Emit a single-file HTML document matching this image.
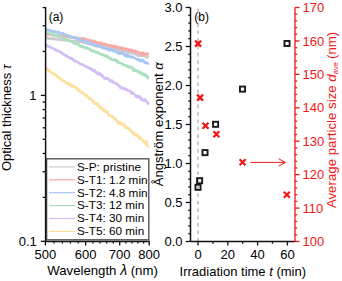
<!DOCTYPE html>
<html><head><meta charset="utf-8"><style>
html,body{margin:0;padding:0;background:#fff;width:342px;height:281px;overflow:hidden}
svg{display:block;font-family:"Liberation Sans",sans-serif}
</style></head><body>
<svg width="342" height="281" viewBox="0 0 342 281"><polyline points="45.60,38.22 46.10,37.72 46.60,38.27 47.10,38.20 47.60,38.04 48.10,37.73 48.60,38.62 49.10,38.41 49.60,38.38 50.10,38.62 50.60,38.56 51.10,38.86 51.60,38.35 52.10,38.92 52.60,38.95 53.10,38.99 53.60,38.56 54.10,38.42 54.60,38.89 55.10,38.83 55.60,39.03 56.10,39.42 56.60,39.11 57.10,38.67 57.60,39.16 58.10,38.92 58.60,39.73 59.10,39.72 59.60,39.48 60.10,39.68 60.60,39.83 61.10,39.65 61.60,39.99 62.10,39.74 62.60,40.11 63.10,40.25 63.60,40.32 64.10,39.80 64.60,40.21 65.10,39.58 65.60,39.95 66.10,39.71 66.60,40.52 67.10,40.10 67.60,40.34 68.10,40.31 68.60,40.51 69.10,40.36 69.60,40.60 70.10,41.25 70.60,40.73 71.10,41.00 71.60,41.31 72.10,41.06 72.60,40.93 73.10,41.33 73.60,41.83 74.10,40.94 74.60,41.29 75.10,41.68 75.60,41.62 76.10,41.35 76.60,41.68 77.10,41.46 77.60,41.26 78.10,41.08 78.60,41.41 79.10,42.06 79.60,41.81 80.10,41.71 80.60,41.83 81.10,41.56 81.60,42.09 82.10,41.64 82.60,42.06 83.10,41.47 83.60,42.70 84.10,42.44 84.60,42.20 85.10,43.31 85.60,43.14 86.10,42.56 86.60,43.15 87.10,43.67 87.60,43.35 88.10,43.85 88.60,43.98 89.10,44.06 89.60,43.84 90.10,44.37 90.60,44.21 91.10,44.00 91.60,43.16 92.10,44.57 92.60,44.76 93.10,44.37 93.60,44.62 94.10,45.59 94.60,44.32 95.10,45.39 95.60,46.07 96.10,45.02 96.60,45.67 97.10,46.15 97.60,45.56 98.10,45.91 98.60,45.95 99.10,45.54 99.60,46.12 100.10,46.23 100.60,46.41 101.10,46.27 101.60,46.21 102.10,45.84 102.60,46.37 103.10,46.99 103.60,46.93 104.10,46.57 104.60,46.63 105.10,48.02 105.60,47.75 106.10,47.63 106.60,46.63 107.10,48.09 107.60,48.10 108.10,48.63 108.60,48.14 109.10,48.04 109.60,48.43 110.10,47.53 110.60,48.86 111.10,48.76 111.60,48.63 112.10,49.54 112.60,49.80 113.10,48.48 113.60,48.83 114.10,49.22 114.60,49.22 115.10,49.17 115.60,49.27 116.10,50.40 116.60,49.84 117.10,49.07 117.60,49.12 118.10,50.35 118.60,50.38 119.10,51.04 119.60,50.72 120.10,50.00 120.60,50.84 121.10,49.98 121.60,50.57 122.10,50.94 122.60,51.33 123.10,50.62 123.60,50.65 124.10,51.03 124.60,51.23 125.10,51.37 125.60,51.29 126.10,51.59 126.60,52.36 127.10,52.20 127.60,51.86 128.10,52.04 128.60,52.30 129.10,52.34 129.60,52.54 130.10,52.47 130.60,52.84 131.10,52.69 131.60,52.29 132.10,52.89 132.60,53.64 133.10,53.48 133.60,53.46 134.10,53.82 134.60,53.55 135.10,53.22 135.60,54.12 136.10,53.97 136.60,54.99 137.10,54.10 137.60,53.79 138.10,54.55 138.60,55.86 139.10,54.88 139.60,54.57 140.10,54.73 140.60,55.65 141.10,55.72 141.60,55.53 142.10,56.10 142.60,55.82 143.10,55.43 143.60,55.65 144.10,56.31 144.60,56.43 145.10,56.60 145.60,55.96 146.10,56.57 146.60,57.32 147.10,56.61 147.60,57.43 148.10,57.08 148.60,57.49" fill="none" stroke="#cacaca" stroke-width="2.5" stroke-linejoin="round"/>
<polyline points="45.60,34.23 46.10,33.93 46.60,34.24 47.10,34.49 47.60,34.30 48.10,34.40 48.60,34.40 49.10,34.17 49.60,34.34 50.10,34.55 50.60,34.36 51.10,34.53 51.60,34.85 52.10,34.61 52.60,35.07 53.10,35.44 53.60,34.88 54.10,35.08 54.60,35.06 55.10,35.53 55.60,35.20 56.10,35.36 56.60,35.04 57.10,35.20 57.60,35.19 58.10,34.76 58.60,35.63 59.10,35.60 59.60,35.12 60.10,35.85 60.60,35.81 61.10,35.98 61.60,36.11 62.10,35.69 62.60,36.17 63.10,36.65 63.60,36.25 64.10,35.95 64.60,35.95 65.10,36.05 65.60,36.48 66.10,36.94 66.60,36.84 67.10,36.68 67.60,37.12 68.10,36.48 68.60,36.47 69.10,36.74 69.60,36.95 70.10,36.72 70.60,36.87 71.10,37.46 71.60,37.74 72.10,37.44 72.60,37.73 73.10,37.62 73.60,37.86 74.10,37.57 74.60,37.56 75.10,37.65 75.60,38.23 76.10,38.37 76.60,37.89 77.10,38.34 77.60,37.91 78.10,38.18 78.60,38.58 79.10,38.93 79.60,38.47 80.10,38.69 80.60,38.86 81.10,38.35 81.60,38.95 82.10,38.53 82.60,38.84 83.10,38.43 83.60,38.16 84.10,38.93 84.60,39.35 85.10,39.17 85.60,39.73 86.10,39.56 86.60,39.59 87.10,40.10 87.60,39.64 88.10,40.01 88.60,40.36 89.10,40.73 89.60,40.51 90.10,40.81 90.60,40.61 91.10,40.95 91.60,41.51 92.10,40.68 92.60,41.74 93.10,40.85 93.60,41.28 94.10,41.49 94.60,42.02 95.10,41.39 95.60,41.41 96.10,42.52 96.60,42.79 97.10,42.81 97.60,43.80 98.10,42.60 98.60,42.70 99.10,42.98 99.60,42.94 100.10,43.65 100.60,42.93 101.10,43.57 101.60,42.57 102.10,44.33 102.60,43.83 103.10,44.40 103.60,44.91 104.10,44.02 104.60,44.07 105.10,43.94 105.60,43.97 106.10,44.32 106.60,45.02 107.10,44.78 107.60,45.13 108.10,45.13 108.60,45.39 109.10,45.39 109.60,45.31 110.10,45.70 110.60,45.41 111.10,45.38 111.60,46.70 112.10,46.36 112.60,45.85 113.10,46.84 113.60,46.62 114.10,45.70 114.60,47.20 115.10,46.71 115.60,47.03 116.10,46.79 116.60,46.97 117.10,46.43 117.60,47.59 118.10,47.47 118.60,47.37 119.10,47.65 119.60,47.81 120.10,48.38 120.60,47.91 121.10,48.42 121.60,47.59 122.10,48.37 122.60,48.78 123.10,49.24 123.60,48.16 124.10,48.59 124.60,49.53 125.10,48.75 125.60,49.19 126.10,49.76 126.60,49.08 127.10,49.54 127.60,48.92 128.10,49.60 128.60,49.77 129.10,49.73 129.60,50.37 130.10,50.92 130.60,49.67 131.10,49.89 131.60,50.69 132.10,50.07 132.60,50.98 133.10,51.17 133.60,50.81 134.10,51.45 134.60,50.71 135.10,52.03 135.60,50.99 136.10,51.49 136.60,51.39 137.10,51.45 137.60,52.23 138.10,52.11 138.60,52.16 139.10,53.11 139.60,53.70 140.10,53.03 140.60,53.61 141.10,53.87 141.60,53.20 142.10,52.67 142.60,54.69 143.10,54.38 143.60,52.63 144.10,53.83 144.60,54.18 145.10,54.66 145.60,54.35 146.10,53.92 146.60,53.60 147.10,54.18 147.60,54.55 148.10,53.74 148.60,53.93" fill="none" stroke="#f7a8a8" stroke-width="2.5" stroke-linejoin="round"/>
<polyline points="45.60,29.70 46.10,29.69 46.60,29.86 47.10,29.59 47.60,29.75 48.10,30.25 48.60,29.95 49.10,29.77 49.60,30.14 50.10,31.25 50.60,31.33 51.10,30.90 51.60,31.00 52.10,31.34 52.60,31.00 53.10,31.71 53.60,31.30 54.10,31.20 54.60,32.02 55.10,31.71 55.60,31.95 56.10,32.06 56.60,31.97 57.10,32.25 57.60,32.27 58.10,31.90 58.60,31.97 59.10,32.50 59.60,32.78 60.10,33.06 60.60,33.43 61.10,33.62 61.60,33.66 62.10,33.45 62.60,33.62 63.10,33.17 63.60,33.87 64.10,34.26 64.60,34.51 65.10,34.42 65.60,34.55 66.10,35.01 66.60,34.78 67.10,35.21 67.60,35.38 68.10,35.56 68.60,36.13 69.10,35.81 69.60,35.94 70.10,35.89 70.60,36.09 71.10,37.02 71.60,37.13 72.10,36.72 72.60,37.10 73.10,37.44 73.60,37.52 74.10,37.75 74.60,37.18 75.10,37.59 75.60,37.99 76.10,38.53 76.60,38.33 77.10,38.10 77.60,38.50 78.10,38.76 78.60,38.74 79.10,39.79 79.60,39.17 80.10,39.70 80.60,40.47 81.10,40.46 81.60,40.24 82.10,40.22 82.60,40.75 83.10,41.17 83.60,40.84 84.10,41.35 84.60,41.03 85.10,41.11 85.60,41.46 86.10,41.93 86.60,42.24 87.10,41.50 87.60,42.10 88.10,42.31 88.60,42.13 89.10,42.58 89.60,43.22 90.10,44.05 90.60,43.47 91.10,43.44 91.60,43.00 92.10,44.49 92.60,43.86 93.10,44.23 93.60,44.20 94.10,44.76 94.60,44.23 95.10,44.94 95.60,45.28 96.10,45.32 96.60,45.63 97.10,45.34 97.60,46.50 98.10,45.80 98.60,45.70 99.10,46.37 99.60,46.53 100.10,46.60 100.60,47.07 101.10,47.19 101.60,46.95 102.10,47.50 102.60,48.34 103.10,48.03 103.60,47.90 104.10,47.98 104.60,47.95 105.10,48.23 105.60,48.81 106.10,48.53 106.60,47.78 107.10,49.26 107.60,48.81 108.10,49.60 108.60,49.32 109.10,49.85 109.60,50.77 110.10,49.37 110.60,49.64 111.10,49.64 111.60,49.30 112.10,49.69 112.60,51.13 113.10,50.65 113.60,50.09 114.10,50.33 114.60,51.42 115.10,50.83 115.60,51.09 116.10,51.76 116.60,52.34 117.10,52.92 117.60,52.60 118.10,52.52 118.60,52.78 119.10,53.89 119.60,53.71 120.10,53.17 120.60,53.67 121.10,53.37 121.60,53.32 122.10,53.32 122.60,53.01 123.10,53.54 123.60,53.51 124.10,55.19 124.60,55.13 125.10,54.58 125.60,56.01 126.10,55.85 126.60,54.51 127.10,56.41 127.60,55.98 128.10,56.62 128.60,55.10 129.10,56.20 129.60,56.24 130.10,56.33 130.60,56.78 131.10,57.44 131.60,56.58 132.10,56.68 132.60,56.76 133.10,57.07 133.60,57.37 134.10,58.14 134.60,58.28 135.10,58.38 135.60,58.50 136.10,58.64 136.60,59.28 137.10,59.40 137.60,59.32 138.10,59.26 138.60,60.49 139.10,59.36 139.60,60.60 140.10,60.88 140.60,60.27 141.10,60.98 141.60,59.87 142.10,61.13 142.60,60.96 143.10,60.22 143.60,61.60 144.10,61.22 144.60,62.70 145.10,61.79 145.60,62.32 146.10,63.16 146.60,62.87 147.10,63.03 147.60,62.86 148.10,63.56 148.60,62.89" fill="none" stroke="#a8c6f4" stroke-width="2.5" stroke-linejoin="round"/>
<polyline points="45.60,31.36 46.10,32.09 46.60,32.25 47.10,32.03 47.60,32.40 48.10,33.21 48.60,32.75 49.10,32.99 49.60,33.09 50.10,33.67 50.60,33.74 51.10,33.99 51.60,34.44 52.10,34.02 52.60,34.33 53.10,34.83 53.60,34.41 54.10,35.22 54.60,35.64 55.10,34.78 55.60,34.91 56.10,34.95 56.60,34.79 57.10,35.68 57.60,35.35 58.10,36.21 58.60,36.71 59.10,36.07 59.60,36.58 60.10,36.33 60.60,37.37 61.10,37.05 61.60,37.26 62.10,37.62 62.60,37.89 63.10,37.81 63.60,38.03 64.10,38.13 64.60,38.45 65.10,38.16 65.60,38.63 66.10,38.43 66.60,39.20 67.10,40.28 67.60,39.98 68.10,39.72 68.60,40.40 69.10,40.23 69.60,40.12 70.10,40.60 70.60,41.46 71.10,41.60 71.60,41.63 72.10,41.53 72.60,41.83 73.10,42.85 73.60,42.60 74.10,42.23 74.60,42.13 75.10,42.61 75.60,44.06 76.10,43.19 76.60,43.88 77.10,44.16 77.60,44.19 78.10,44.42 78.60,44.33 79.10,44.69 79.60,46.05 80.10,45.58 80.60,46.39 81.10,45.63 81.60,46.53 82.10,46.75 82.60,47.10 83.10,46.39 83.60,47.22 84.10,47.33 84.60,47.20 85.10,47.91 85.60,47.70 86.10,47.92 86.60,48.17 87.10,47.43 87.60,48.53 88.10,48.33 88.60,48.28 89.10,48.94 89.60,49.59 90.10,49.50 90.60,50.33 91.10,49.78 91.60,50.10 92.10,51.29 92.60,50.81 93.10,51.30 93.60,50.66 94.10,51.47 94.60,51.49 95.10,51.80 95.60,51.87 96.10,52.47 96.60,51.99 97.10,51.99 97.60,52.13 98.10,53.31 98.60,52.85 99.10,52.98 99.60,53.45 100.10,54.00 100.60,53.99 101.10,54.51 101.60,54.39 102.10,54.48 102.60,54.35 103.10,55.01 103.60,55.09 104.10,55.53 104.60,55.74 105.10,55.88 105.60,55.01 106.10,56.16 106.60,56.35 107.10,57.25 107.60,56.37 108.10,56.91 108.60,57.29 109.10,57.50 109.60,58.51 110.10,58.55 110.60,59.50 111.10,58.44 111.60,58.58 112.10,60.15 112.60,59.66 113.10,59.73 113.60,59.66 114.10,59.90 114.60,59.31 115.10,60.58 115.60,59.91 116.10,61.14 116.60,60.99 117.10,60.34 117.60,60.85 118.10,62.56 118.60,62.27 119.10,62.56 119.60,62.88 120.10,62.96 120.60,62.97 121.10,63.37 121.60,63.48 122.10,64.40 122.60,63.70 123.10,64.92 123.60,64.92 124.10,65.05 124.60,65.01 125.10,65.17 125.60,65.48 126.10,65.60 126.60,65.53 127.10,66.31 127.60,66.01 128.10,67.32 128.60,67.23 129.10,67.11 129.60,66.46 130.10,67.56 130.60,67.42 131.10,67.21 131.60,67.32 132.10,67.26 132.60,69.04 133.10,69.27 133.60,70.98 134.10,69.61 134.60,69.36 135.10,70.59 135.60,69.94 136.10,70.09 136.60,70.34 137.10,70.48 137.60,71.89 138.10,71.87 138.60,72.46 139.10,71.61 139.60,72.10 140.10,71.84 140.60,73.40 141.10,72.45 141.60,73.68 142.10,74.41 142.60,74.75 143.10,73.64 143.60,74.84 144.10,74.20 144.60,74.26 145.10,74.14 145.60,75.88 146.10,76.47 146.60,75.63 147.10,75.96 147.60,76.77 148.10,78.50 148.60,78.29" fill="none" stroke="#aae0c0" stroke-width="2.5" stroke-linejoin="round"/>
<polyline points="45.60,44.58 46.10,45.16 46.60,45.12 47.10,45.79 47.60,46.28 48.10,46.44 48.60,46.22 49.10,46.37 49.60,46.63 50.10,47.28 50.60,47.68 51.10,47.49 51.60,47.56 52.10,48.13 52.60,48.31 53.10,48.37 53.60,48.68 54.10,49.14 54.60,49.74 55.10,49.24 55.60,49.68 56.10,50.51 56.60,50.26 57.10,50.71 57.60,51.13 58.10,51.07 58.60,51.09 59.10,51.47 59.60,51.71 60.10,52.08 60.60,52.00 61.10,52.84 61.60,52.22 62.10,53.00 62.60,53.55 63.10,54.29 63.60,54.09 64.10,54.87 64.60,54.74 65.10,55.34 65.60,55.77 66.10,55.30 66.60,55.89 67.10,55.95 67.60,56.99 68.10,57.32 68.60,57.32 69.10,57.29 69.60,57.97 70.10,58.43 70.60,58.63 71.10,58.59 71.60,57.93 72.10,58.54 72.60,59.53 73.10,59.03 73.60,60.26 74.10,60.78 74.60,60.77 75.10,61.41 75.60,61.05 76.10,61.05 76.60,61.59 77.10,61.82 77.60,62.02 78.10,62.67 78.60,62.62 79.10,63.10 79.60,63.50 80.10,63.67 80.60,64.64 81.10,64.21 81.60,64.27 82.10,64.26 82.60,64.25 83.10,65.28 83.60,65.42 84.10,65.33 84.60,65.93 85.10,66.31 85.60,66.38 86.10,66.93 86.60,66.23 87.10,66.99 87.60,67.36 88.10,67.10 88.60,68.01 89.10,67.95 89.60,68.58 90.10,68.31 90.60,69.01 91.10,68.42 91.60,69.25 92.10,70.37 92.60,70.55 93.10,70.30 93.60,70.03 94.10,71.10 94.60,70.03 95.10,71.08 95.60,72.02 96.10,72.51 96.60,72.20 97.10,72.28 97.60,74.08 98.10,74.04 98.60,73.76 99.10,74.07 99.60,74.50 100.10,73.12 100.60,74.90 101.10,75.23 101.60,74.81 102.10,76.41 102.60,75.63 103.10,77.39 103.60,77.33 104.10,78.25 104.60,77.50 105.10,77.94 105.60,78.72 106.10,78.20 106.60,78.40 107.10,78.46 107.60,78.85 108.10,78.36 108.60,79.51 109.10,79.82 109.60,80.09 110.10,81.11 110.60,80.62 111.10,81.54 111.60,80.68 112.10,81.47 112.60,80.78 113.10,82.23 113.60,82.40 114.10,82.75 114.60,82.99 115.10,83.32 115.60,83.33 116.10,82.91 116.60,83.92 117.10,84.27 117.60,84.53 118.10,84.43 118.60,85.39 119.10,86.22 119.60,86.02 120.10,86.48 120.60,87.99 121.10,87.56 121.60,87.83 122.10,88.28 122.60,87.70 123.10,88.07 123.60,89.32 124.10,88.43 124.60,88.71 125.10,89.03 125.60,89.18 126.10,88.85 126.60,89.91 127.10,89.61 127.60,90.35 128.10,90.78 128.60,90.92 129.10,91.11 129.60,90.55 130.10,90.96 130.60,91.58 131.10,92.68 131.60,93.80 132.10,92.47 132.60,93.48 133.10,93.02 133.60,93.32 134.10,93.96 134.60,94.59 135.10,94.83 135.60,96.10 136.10,95.32 136.60,96.86 137.10,97.42 137.60,96.88 138.10,97.03 138.60,96.32 139.10,96.03 139.60,96.61 140.10,96.92 140.60,99.12 141.10,97.86 141.60,99.77 142.10,99.20 142.60,99.56 143.10,100.50 143.60,99.56 144.10,100.52 144.60,100.47 145.10,99.38 145.60,100.93 146.10,101.15 146.60,101.47 147.10,102.47 147.60,102.24 148.10,103.64 148.60,104.64" fill="none" stroke="#d5bef3" stroke-width="2.5" stroke-linejoin="round"/>
<polyline points="45.60,68.01 46.10,68.13 46.60,69.35 47.10,68.63 47.60,70.10 48.10,70.06 48.60,71.14 49.10,70.27 49.60,71.00 50.10,71.06 50.60,71.84 51.10,72.04 51.60,72.31 52.10,73.29 52.60,73.12 53.10,73.42 53.60,73.96 54.10,73.91 54.60,74.22 55.10,74.82 55.60,75.07 56.10,75.14 56.60,75.86 57.10,76.20 57.60,77.25 58.10,76.50 58.60,77.86 59.10,77.51 59.60,78.00 60.10,78.55 60.60,78.98 61.10,79.59 61.60,80.38 62.10,79.61 62.60,80.52 63.10,80.75 63.60,80.95 64.10,80.62 64.60,81.90 65.10,82.00 65.60,82.45 66.10,82.43 66.60,83.12 67.10,83.49 67.60,83.80 68.10,83.38 68.60,84.30 69.10,84.69 69.60,83.76 70.10,85.12 70.60,84.38 71.10,85.45 71.60,85.66 72.10,86.54 72.60,86.35 73.10,86.17 73.60,85.91 74.10,86.02 74.60,87.17 75.10,86.80 75.60,86.92 76.10,88.10 76.60,87.79 77.10,88.52 77.60,88.73 78.10,90.40 78.60,90.74 79.10,90.30 79.60,89.95 80.10,91.48 80.60,91.39 81.10,92.06 81.60,92.45 82.10,92.17 82.60,93.24 83.10,93.68 83.60,93.48 84.10,93.84 84.60,94.41 85.10,95.24 85.60,94.50 86.10,95.48 86.60,95.54 87.10,95.56 87.60,97.22 88.10,97.48 88.60,97.87 89.10,98.63 89.60,97.81 90.10,98.58 90.60,99.41 91.10,99.83 91.60,99.33 92.10,100.48 92.60,100.83 93.10,101.79 93.60,102.32 94.10,102.30 94.60,103.74 95.10,102.99 95.60,102.96 96.10,103.46 96.60,103.29 97.10,104.55 97.60,103.82 98.10,105.36 98.60,106.01 99.10,107.18 99.60,106.39 100.10,108.06 100.60,107.46 101.10,108.41 101.60,107.78 102.10,108.78 102.60,108.93 103.10,110.48 103.60,110.16 104.10,109.52 104.60,111.05 105.10,111.71 105.60,111.30 106.10,111.97 106.60,112.05 107.10,112.29 107.60,111.82 108.10,113.83 108.60,115.20 109.10,115.79 109.60,115.32 110.10,115.44 110.60,115.77 111.10,116.76 111.60,116.64 112.10,116.15 112.60,117.05 113.10,117.36 113.60,118.22 114.10,118.08 114.60,117.92 115.10,119.07 115.60,119.92 116.10,119.18 116.60,120.60 117.10,121.83 117.60,121.40 118.10,121.44 118.60,123.26 119.10,122.60 119.60,123.20 120.10,122.53 120.60,124.28 121.10,122.42 121.60,123.25 122.10,124.19 122.60,124.81 123.10,124.09 123.60,125.14 124.10,126.15 124.60,124.85 125.10,127.27 125.60,127.58 126.10,126.81 126.60,127.62 127.10,128.02 127.60,127.29 128.10,127.74 128.60,128.92 129.10,128.44 129.60,129.52 130.10,129.75 130.60,131.08 131.10,130.81 131.60,131.32 132.10,131.54 132.60,132.01 133.10,133.82 133.60,132.52 134.10,134.39 134.60,134.49 135.10,135.21 135.60,134.34 136.10,135.56 136.60,135.56 137.10,134.78 137.60,135.78 138.10,136.01 138.60,136.76 139.10,138.56 139.60,137.43 140.10,137.29 140.60,137.66 141.10,138.89 141.60,138.90 142.10,139.91 142.60,140.51 143.10,141.59 143.60,140.93 144.10,141.69 144.60,141.26 145.10,142.82 145.60,144.01 146.10,144.14 146.60,141.54 147.10,144.71 147.60,146.19 148.10,146.49 148.60,145.74" fill="none" stroke="#fcdf9e" stroke-width="2.5" stroke-linejoin="round"/>
<rect x="46.6" y="158.8" width="102.20000000000002" height="81.0" fill="#fff" stroke="#555" stroke-width="1.4"/>
<line x1="49" y1="166.9" x2="75" y2="166.9" stroke="#cacaca" stroke-width="1.2"/>
<text x="77.0" y="170.7" font-family="Liberation Sans, sans-serif" font-size="11.75" fill="#000">S-P: pristine</text>
<line x1="49" y1="179.8" x2="75" y2="179.8" stroke="#f7a8a8" stroke-width="1.2"/>
<text x="77.0" y="183.6" font-family="Liberation Sans, sans-serif" font-size="11.75" fill="#000">S-T1: 1.2 min</text>
<line x1="49" y1="192.7" x2="75" y2="192.7" stroke="#a8c6f4" stroke-width="1.2"/>
<text x="77.0" y="196.5" font-family="Liberation Sans, sans-serif" font-size="11.75" fill="#000">S-T2: 4.8 min</text>
<line x1="49" y1="205.6" x2="75" y2="205.6" stroke="#aae0c0" stroke-width="1.2"/>
<text x="77.0" y="209.4" font-family="Liberation Sans, sans-serif" font-size="11.75" fill="#000">S-T3: 12 min</text>
<line x1="49" y1="218.5" x2="75" y2="218.5" stroke="#d5bef3" stroke-width="1.2"/>
<text x="77.0" y="222.3" font-family="Liberation Sans, sans-serif" font-size="11.75" fill="#000">S-T4: 30 min</text>
<line x1="49" y1="231.4" x2="75" y2="231.4" stroke="#fcdf9e" stroke-width="1.2"/>
<text x="77.0" y="235.2" font-family="Liberation Sans, sans-serif" font-size="11.75" fill="#000">S-T5: 60 min</text>
<line x1="45.6" y1="7.1" x2="45.6" y2="242.15" stroke="#111" stroke-width="1.5"/>
<line x1="44.85" y1="241.4" x2="149.6" y2="241.4" stroke="#111" stroke-width="1.5"/>
<line x1="40.800000000000004" y1="241.30" x2="45.6" y2="241.30" stroke="#111" stroke-width="1.3"/>
<line x1="40.800000000000004" y1="95.40" x2="45.6" y2="95.40" stroke="#111" stroke-width="1.3"/>
<line x1="42.6" y1="197.38" x2="45.6" y2="197.38" stroke="#111" stroke-width="1.3"/>
<line x1="42.6" y1="171.69" x2="45.6" y2="171.69" stroke="#111" stroke-width="1.3"/>
<line x1="42.6" y1="153.46" x2="45.6" y2="153.46" stroke="#111" stroke-width="1.3"/>
<line x1="42.6" y1="139.32" x2="45.6" y2="139.32" stroke="#111" stroke-width="1.3"/>
<line x1="42.6" y1="127.77" x2="45.6" y2="127.77" stroke="#111" stroke-width="1.3"/>
<line x1="42.6" y1="118.00" x2="45.6" y2="118.00" stroke="#111" stroke-width="1.3"/>
<line x1="42.6" y1="109.54" x2="45.6" y2="109.54" stroke="#111" stroke-width="1.3"/>
<line x1="42.6" y1="102.08" x2="45.6" y2="102.08" stroke="#111" stroke-width="1.3"/>
<line x1="42.6" y1="51.48" x2="45.6" y2="51.48" stroke="#111" stroke-width="1.3"/>
<line x1="42.6" y1="25.79" x2="45.6" y2="25.79" stroke="#111" stroke-width="1.3"/>
<line x1="42.6" y1="7.56" x2="45.6" y2="7.56" stroke="#111" stroke-width="1.3"/>
<text x="36.5" y="99.8" font-family="Liberation Sans, sans-serif" font-size="13" text-anchor="end">1</text>
<text x="36.8" y="245.7" font-family="Liberation Sans, sans-serif" font-size="13" text-anchor="end">0.1</text>
<line x1="45.40" y1="241.4" x2="45.40" y2="245.4" stroke="#111" stroke-width="1.3"/>
<line x1="54.06" y1="241.4" x2="54.06" y2="243.6" stroke="#111" stroke-width="1.3"/>
<line x1="62.40" y1="241.4" x2="62.40" y2="243.6" stroke="#111" stroke-width="1.3"/>
<line x1="70.43" y1="241.4" x2="70.43" y2="243.6" stroke="#111" stroke-width="1.3"/>
<line x1="78.18" y1="241.4" x2="78.18" y2="243.6" stroke="#111" stroke-width="1.3"/>
<line x1="85.67" y1="241.4" x2="85.67" y2="245.4" stroke="#111" stroke-width="1.3"/>
<line x1="92.91" y1="241.4" x2="92.91" y2="243.6" stroke="#111" stroke-width="1.3"/>
<line x1="99.93" y1="241.4" x2="99.93" y2="243.6" stroke="#111" stroke-width="1.3"/>
<line x1="106.72" y1="241.4" x2="106.72" y2="243.6" stroke="#111" stroke-width="1.3"/>
<line x1="113.32" y1="241.4" x2="113.32" y2="243.6" stroke="#111" stroke-width="1.3"/>
<line x1="119.72" y1="241.4" x2="119.72" y2="245.4" stroke="#111" stroke-width="1.3"/>
<line x1="125.94" y1="241.4" x2="125.94" y2="243.6" stroke="#111" stroke-width="1.3"/>
<line x1="132.00" y1="241.4" x2="132.00" y2="243.6" stroke="#111" stroke-width="1.3"/>
<line x1="137.89" y1="241.4" x2="137.89" y2="243.6" stroke="#111" stroke-width="1.3"/>
<line x1="143.62" y1="241.4" x2="143.62" y2="243.6" stroke="#111" stroke-width="1.3"/>
<line x1="149.22" y1="241.4" x2="149.22" y2="245.4" stroke="#111" stroke-width="1.3"/>
<text x="45.40" y="259" font-family="Liberation Sans, sans-serif" font-size="13" text-anchor="middle">500</text>
<text x="85.67" y="259" font-family="Liberation Sans, sans-serif" font-size="13" text-anchor="middle">600</text>
<text x="119.72" y="259" font-family="Liberation Sans, sans-serif" font-size="13" text-anchor="middle">700</text>
<text x="149.22" y="259" font-family="Liberation Sans, sans-serif" font-size="13" text-anchor="middle">800</text>
<text x="47.3" y="275.2" font-family="Liberation Sans, sans-serif" font-size="13.2">Wavelength <tspan font-style="italic" font-size="14">λ</tspan> (nm)</text>
<text x="48.7" y="20.8" font-family="Liberation Sans, sans-serif" font-size="12">(a)</text>
<text transform="translate(10.9,171) rotate(-90)" font-family="Liberation Sans, sans-serif" font-size="13">Optical thickness <tspan font-style="italic">τ</tspan></text>
<line x1="198" y1="7.5" x2="198" y2="241.5" stroke="#a0a0a0" stroke-width="1.1" stroke-dasharray="3.7,3.7" stroke-dashoffset="-0.9"/>
<line x1="190.5" y1="7.5" x2="190.5" y2="241.5" stroke="#111" stroke-width="1.5"/>
<line x1="190.5" y1="241.5" x2="295.0" y2="241.5" stroke="#111" stroke-width="1.5"/>
<line x1="185.7" y1="241.50" x2="190.5" y2="241.50" stroke="#111" stroke-width="1.3"/>
<line x1="188.3" y1="233.70" x2="190.5" y2="233.70" stroke="#111" stroke-width="1.3"/>
<line x1="188.3" y1="225.90" x2="190.5" y2="225.90" stroke="#111" stroke-width="1.3"/>
<line x1="188.3" y1="218.10" x2="190.5" y2="218.10" stroke="#111" stroke-width="1.3"/>
<line x1="188.3" y1="210.30" x2="190.5" y2="210.30" stroke="#111" stroke-width="1.3"/>
<line x1="185.7" y1="202.50" x2="190.5" y2="202.50" stroke="#111" stroke-width="1.3"/>
<line x1="188.3" y1="194.70" x2="190.5" y2="194.70" stroke="#111" stroke-width="1.3"/>
<line x1="188.3" y1="186.90" x2="190.5" y2="186.90" stroke="#111" stroke-width="1.3"/>
<line x1="188.3" y1="179.10" x2="190.5" y2="179.10" stroke="#111" stroke-width="1.3"/>
<line x1="188.3" y1="171.30" x2="190.5" y2="171.30" stroke="#111" stroke-width="1.3"/>
<line x1="185.7" y1="163.50" x2="190.5" y2="163.50" stroke="#111" stroke-width="1.3"/>
<line x1="188.3" y1="155.70" x2="190.5" y2="155.70" stroke="#111" stroke-width="1.3"/>
<line x1="188.3" y1="147.90" x2="190.5" y2="147.90" stroke="#111" stroke-width="1.3"/>
<line x1="188.3" y1="140.10" x2="190.5" y2="140.10" stroke="#111" stroke-width="1.3"/>
<line x1="188.3" y1="132.30" x2="190.5" y2="132.30" stroke="#111" stroke-width="1.3"/>
<line x1="185.7" y1="124.50" x2="190.5" y2="124.50" stroke="#111" stroke-width="1.3"/>
<line x1="188.3" y1="116.70" x2="190.5" y2="116.70" stroke="#111" stroke-width="1.3"/>
<line x1="188.3" y1="108.90" x2="190.5" y2="108.90" stroke="#111" stroke-width="1.3"/>
<line x1="188.3" y1="101.10" x2="190.5" y2="101.10" stroke="#111" stroke-width="1.3"/>
<line x1="188.3" y1="93.30" x2="190.5" y2="93.30" stroke="#111" stroke-width="1.3"/>
<line x1="185.7" y1="85.50" x2="190.5" y2="85.50" stroke="#111" stroke-width="1.3"/>
<line x1="188.3" y1="77.70" x2="190.5" y2="77.70" stroke="#111" stroke-width="1.3"/>
<line x1="188.3" y1="69.90" x2="190.5" y2="69.90" stroke="#111" stroke-width="1.3"/>
<line x1="188.3" y1="62.10" x2="190.5" y2="62.10" stroke="#111" stroke-width="1.3"/>
<line x1="188.3" y1="54.30" x2="190.5" y2="54.30" stroke="#111" stroke-width="1.3"/>
<line x1="185.7" y1="46.50" x2="190.5" y2="46.50" stroke="#111" stroke-width="1.3"/>
<line x1="188.3" y1="38.70" x2="190.5" y2="38.70" stroke="#111" stroke-width="1.3"/>
<line x1="188.3" y1="30.90" x2="190.5" y2="30.90" stroke="#111" stroke-width="1.3"/>
<line x1="188.3" y1="23.10" x2="190.5" y2="23.10" stroke="#111" stroke-width="1.3"/>
<line x1="188.3" y1="15.30" x2="190.5" y2="15.30" stroke="#111" stroke-width="1.3"/>
<line x1="185.7" y1="7.50" x2="190.5" y2="7.50" stroke="#111" stroke-width="1.3"/>
<text x="182.6" y="245.8" font-family="Liberation Sans, sans-serif" font-size="13" text-anchor="end">0.0</text>
<text x="182.6" y="206.8" font-family="Liberation Sans, sans-serif" font-size="13" text-anchor="end">0.5</text>
<text x="182.6" y="167.8" font-family="Liberation Sans, sans-serif" font-size="13" text-anchor="end">1.0</text>
<text x="182.6" y="128.8" font-family="Liberation Sans, sans-serif" font-size="13" text-anchor="end">1.5</text>
<text x="182.6" y="89.8" font-family="Liberation Sans, sans-serif" font-size="13" text-anchor="end">2.0</text>
<text x="182.6" y="50.8" font-family="Liberation Sans, sans-serif" font-size="13" text-anchor="end">2.5</text>
<text x="182.6" y="11.8" font-family="Liberation Sans, sans-serif" font-size="13" text-anchor="end">3.0</text>
<line x1="198.00" y1="241.5" x2="198.00" y2="245.5" stroke="#111" stroke-width="1.3"/>
<line x1="212.90" y1="241.5" x2="212.90" y2="243.7" stroke="#111" stroke-width="1.3"/>
<line x1="227.80" y1="241.5" x2="227.80" y2="245.5" stroke="#111" stroke-width="1.3"/>
<line x1="242.70" y1="241.5" x2="242.70" y2="243.7" stroke="#111" stroke-width="1.3"/>
<line x1="257.60" y1="241.5" x2="257.60" y2="245.5" stroke="#111" stroke-width="1.3"/>
<line x1="272.50" y1="241.5" x2="272.50" y2="243.7" stroke="#111" stroke-width="1.3"/>
<line x1="287.40" y1="241.5" x2="287.40" y2="245.5" stroke="#111" stroke-width="1.3"/>
<text x="198.00" y="259" font-family="Liberation Sans, sans-serif" font-size="13" text-anchor="middle">0</text>
<text x="227.80" y="259" font-family="Liberation Sans, sans-serif" font-size="13" text-anchor="middle">20</text>
<text x="257.60" y="259" font-family="Liberation Sans, sans-serif" font-size="13" text-anchor="middle">40</text>
<text x="287.40" y="259" font-family="Liberation Sans, sans-serif" font-size="13" text-anchor="middle">60</text>
<text x="179.6" y="275.5" font-family="Liberation Sans, sans-serif" font-size="13">Irradiation time <tspan font-style="italic">t</tspan> (min)</text>
<text x="194.3" y="20.8" font-family="Liberation Sans, sans-serif" font-size="12">(b)</text>
<text transform="translate(163.4,186.2) rotate(-90)" font-family="Liberation Sans, sans-serif" font-size="13">Ångström exponent <tspan font-style="italic">α</tspan></text>
<line x1="295.0" y1="7.5" x2="295.0" y2="242.1" stroke="#f21616" stroke-width="1.3"/>
<line x1="295.0" y1="241.50" x2="299.5" y2="241.50" stroke="#f21616" stroke-width="1.3"/>
<line x1="295.0" y1="234.81" x2="297.2" y2="234.81" stroke="#f21616" stroke-width="1.3"/>
<line x1="295.0" y1="228.13" x2="297.2" y2="228.13" stroke="#f21616" stroke-width="1.3"/>
<line x1="295.0" y1="221.44" x2="297.2" y2="221.44" stroke="#f21616" stroke-width="1.3"/>
<line x1="295.0" y1="214.76" x2="297.2" y2="214.76" stroke="#f21616" stroke-width="1.3"/>
<line x1="295.0" y1="208.07" x2="299.5" y2="208.07" stroke="#f21616" stroke-width="1.3"/>
<line x1="295.0" y1="201.39" x2="297.2" y2="201.39" stroke="#f21616" stroke-width="1.3"/>
<line x1="295.0" y1="194.70" x2="297.2" y2="194.70" stroke="#f21616" stroke-width="1.3"/>
<line x1="295.0" y1="188.01" x2="297.2" y2="188.01" stroke="#f21616" stroke-width="1.3"/>
<line x1="295.0" y1="181.33" x2="297.2" y2="181.33" stroke="#f21616" stroke-width="1.3"/>
<line x1="295.0" y1="174.64" x2="299.5" y2="174.64" stroke="#f21616" stroke-width="1.3"/>
<line x1="295.0" y1="167.96" x2="297.2" y2="167.96" stroke="#f21616" stroke-width="1.3"/>
<line x1="295.0" y1="161.27" x2="297.2" y2="161.27" stroke="#f21616" stroke-width="1.3"/>
<line x1="295.0" y1="154.59" x2="297.2" y2="154.59" stroke="#f21616" stroke-width="1.3"/>
<line x1="295.0" y1="147.90" x2="297.2" y2="147.90" stroke="#f21616" stroke-width="1.3"/>
<line x1="295.0" y1="141.21" x2="299.5" y2="141.21" stroke="#f21616" stroke-width="1.3"/>
<line x1="295.0" y1="134.53" x2="297.2" y2="134.53" stroke="#f21616" stroke-width="1.3"/>
<line x1="295.0" y1="127.84" x2="297.2" y2="127.84" stroke="#f21616" stroke-width="1.3"/>
<line x1="295.0" y1="121.16" x2="297.2" y2="121.16" stroke="#f21616" stroke-width="1.3"/>
<line x1="295.0" y1="114.47" x2="297.2" y2="114.47" stroke="#f21616" stroke-width="1.3"/>
<line x1="295.0" y1="107.79" x2="299.5" y2="107.79" stroke="#f21616" stroke-width="1.3"/>
<line x1="295.0" y1="101.10" x2="297.2" y2="101.10" stroke="#f21616" stroke-width="1.3"/>
<line x1="295.0" y1="94.41" x2="297.2" y2="94.41" stroke="#f21616" stroke-width="1.3"/>
<line x1="295.0" y1="87.73" x2="297.2" y2="87.73" stroke="#f21616" stroke-width="1.3"/>
<line x1="295.0" y1="81.04" x2="297.2" y2="81.04" stroke="#f21616" stroke-width="1.3"/>
<line x1="295.0" y1="74.36" x2="299.5" y2="74.36" stroke="#f21616" stroke-width="1.3"/>
<line x1="295.0" y1="67.67" x2="297.2" y2="67.67" stroke="#f21616" stroke-width="1.3"/>
<line x1="295.0" y1="60.99" x2="297.2" y2="60.99" stroke="#f21616" stroke-width="1.3"/>
<line x1="295.0" y1="54.30" x2="297.2" y2="54.30" stroke="#f21616" stroke-width="1.3"/>
<line x1="295.0" y1="47.61" x2="297.2" y2="47.61" stroke="#f21616" stroke-width="1.3"/>
<line x1="295.0" y1="40.93" x2="299.5" y2="40.93" stroke="#f21616" stroke-width="1.3"/>
<line x1="295.0" y1="34.24" x2="297.2" y2="34.24" stroke="#f21616" stroke-width="1.3"/>
<line x1="295.0" y1="27.56" x2="297.2" y2="27.56" stroke="#f21616" stroke-width="1.3"/>
<line x1="295.0" y1="20.87" x2="297.2" y2="20.87" stroke="#f21616" stroke-width="1.3"/>
<line x1="295.0" y1="14.19" x2="297.2" y2="14.19" stroke="#f21616" stroke-width="1.3"/>
<line x1="295.0" y1="7.50" x2="299.5" y2="7.50" stroke="#f21616" stroke-width="1.3"/>
<text x="302.5" y="246.1" font-family="Liberation Sans, sans-serif" font-size="13" fill="#f21616">100</text>
<text x="302.5" y="212.7" font-family="Liberation Sans, sans-serif" font-size="13" fill="#f21616">110</text>
<text x="302.5" y="179.2" font-family="Liberation Sans, sans-serif" font-size="13" fill="#f21616">120</text>
<text x="302.5" y="145.8" font-family="Liberation Sans, sans-serif" font-size="13" fill="#f21616">130</text>
<text x="302.5" y="112.4" font-family="Liberation Sans, sans-serif" font-size="13" fill="#f21616">140</text>
<text x="302.5" y="79.0" font-family="Liberation Sans, sans-serif" font-size="13" fill="#f21616">150</text>
<text x="302.5" y="45.5" font-family="Liberation Sans, sans-serif" font-size="13" fill="#f21616">160</text>
<text x="302.5" y="12.1" font-family="Liberation Sans, sans-serif" font-size="13" fill="#f21616">170</text>
<text transform="translate(335.6,208.1) rotate(-90)" font-family="Liberation Sans, sans-serif" font-size="13.25" fill="#f21616">Average particle size <tspan font-style="italic">d</tspan><tspan font-size="7.6" dy="2.3">ave</tspan><tspan dy="-2.3" dx="-0.6"> (nm)</tspan></text>
<rect x="195.45" y="184.75" width="5.1" height="5.1" fill="none" stroke="#1a1a1a" stroke-width="1.9"/>
<rect x="197.05" y="178.15" width="5.1" height="5.1" fill="none" stroke="#1a1a1a" stroke-width="1.9"/>
<rect x="202.45" y="150.05" width="5.1" height="5.1" fill="none" stroke="#1a1a1a" stroke-width="1.9"/>
<rect x="213.05" y="121.75" width="5.1" height="5.1" fill="none" stroke="#1a1a1a" stroke-width="1.9"/>
<rect x="239.95" y="86.55" width="5.1" height="5.1" fill="none" stroke="#1a1a1a" stroke-width="1.9"/>
<rect x="284.45" y="40.95" width="5.1" height="5.1" fill="none" stroke="#1a1a1a" stroke-width="1.9"/>
<path d="M195.10,40.60L201.10,46.60M195.10,46.60L201.10,40.60" stroke="#f21616" stroke-width="2.2"/>
<path d="M197.10,94.60L203.10,100.60M197.10,100.60L203.10,94.60" stroke="#f21616" stroke-width="2.2"/>
<path d="M202.50,122.80L208.50,128.80M202.50,128.80L208.50,122.80" stroke="#f21616" stroke-width="2.2"/>
<path d="M213.40,131.30L219.40,137.30M213.40,137.30L219.40,131.30" stroke="#f21616" stroke-width="2.2"/>
<path d="M239.60,159.30L245.60,165.30M239.60,165.30L245.60,159.30" stroke="#f21616" stroke-width="2.2"/>
<path d="M283.80,191.80L289.80,197.80M283.80,197.80L289.80,191.80" stroke="#f21616" stroke-width="2.2"/>
<path d="M250.4,162.4H285.3M278.6,158.7L285.3,162.4L278.6,166.1" fill="none" stroke="#f21616" stroke-width="1"/></svg>
</body></html>
